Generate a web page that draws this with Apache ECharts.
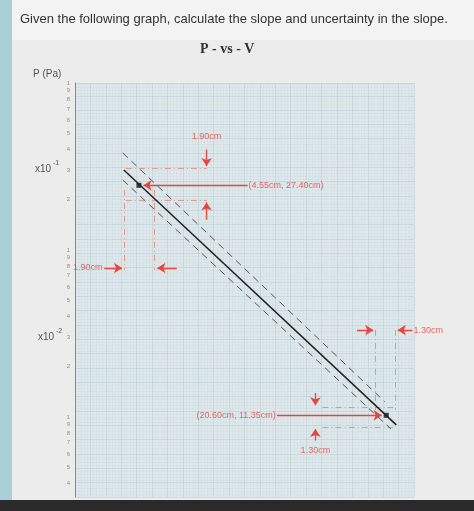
<!DOCTYPE html>
<html><head><meta charset="utf-8">
<script src="https://cdn.jsdelivr.net/npm/echarts@6/dist/echarts.min.js"></script>
<style>html,body{margin:0;padding:0;background:#e9ecec}#c{width:474px;height:511px}</style>
</head><body><div id="c"></div>
<script>
// Log-paper tick labels (mantissas per decade)
const decades = [-1, -2, -3];
const mantissas = [1,9,8,7,6,5,4,3,2];
const lowestValue = 0.004;
// Measured points (cm on the paper)
const points = [[4.55, 27.40], [20.60, 11.35]];
// best fit & error lines (cm)
const mainLine = [[3.57, 28.47], [21.25, 10.68]];
const upperLine = [[3.5, 29.66], [20.5, 12.3]];
const lowerLine = [[3.5, 27.77], [20.9, 10.4]];
// red dash-dot guides (cm)
const guides = [
  [[3.7, 28.61], [8.94, 28.61]], [[3.7, 26.38], [8.94, 26.38]],
  [[3.57, 27.08], [3.57, 21.49]], [[5.53, 27.08], [5.53, 21.49]],
  [[19.88, 17.31], [19.88, 11.72]], [[21.19, 17.31], [21.19, 11.72]],
  [[16.47, 11.93], [21.05, 11.93]], [[16.47, 10.54], [21.05, 10.54]]
];
// red arrows (cm)
const arrows = [
  [[8.94, 29.9], [8.94, 28.75]], [[8.94, 25.0], [8.94, 26.2]],
  [[11.6, 27.4], [4.85, 27.4]],
  [[2.3, 21.63], [3.45, 21.63]], [[7.0, 21.63], [5.75, 21.63]],
  [[18.7, 17.3], [19.75, 17.3]], [[22.3, 17.3], [21.35, 17.3]],
  [[16.0, 12.9], [16.0, 12.05]], [[16.0, 9.6], [16.0, 10.4]],
  [[13.5, 11.35], [20.3, 11.35]]
];
const redTexts = [
  [8.94, 30.4, '1.90cm', 'top'], [11.6, 27.4, '(4.55cm, 27.40cm)', 'right'],
  [2.25, 21.63, '1.90cm', 'left'], [22.3, 17.3, '1.30cm', 'right'],
  [16.0, 9.3, '1.30cm', 'bottom'], [13.5, 11.35, '(20.60cm, 11.35cm)', 'left']
];

const labelData = [];
decades.forEach(d => mantissas.forEach(m => {
  const val = (m === 1 ? Math.pow(10, d + 1) : m * Math.pow(10, d));
  if (val >= lowestValue) labelData.push([0.4, Math.log10(val), String(m)]);
}));

const chart = echarts.init(document.getElementById('c'));
const red = '#e8453c';
chart.setOption({
  animation: false,
  backgroundColor: '#e9ecec',
  graphic: [
    {type:'rect', shape:{x:0,y:0,width:474,height:511}, style:{fill:'#a9d0d6'}, z:-10},
    {type:'rect', shape:{x:12,y:0,width:462,height:40}, style:{fill:'#f3f3f3'}, z:-9},
    {type:'rect', shape:{x:12,y:40,width:462,height:460}, style:{fill:'#ececec'}, z:-9},
    {type:'rect', shape:{x:0,y:500,width:474,height:11}, style:{fill:'#2a2a2a'}, z:-8},
    {type:'text', left:20, top:13, style:{text:'Given the following graph, calculate the slope and uncertainty in the slope.', font:'13px "Liberation Sans", Arial', fill:'#333'}},
    {type:'text', left:200, top:42, style:{text:'P - vs - V', font:'bold 14px "Liberation Serif", serif', fill:'#333'}},
    {type:'text', left:33, top:69, style:{text:'P (Pa)', font:'10px "Liberation Sans", Arial', fill:'#555'}},
    {type:'text', left:35, top:164, style:{text:'x10', font:'10px "Liberation Sans"', fill:'#555'}},
    {type:'text', left:53, top:160, style:{text:'-1', font:'7px "Liberation Sans"', fill:'#555'}},
    {type:'text', left:38, top:332, style:{text:'x10', font:'10px "Liberation Sans"', fill:'#555'}},
    {type:'text', left:56, top:328, style:{text:'-2', font:'7px "Liberation Sans"', fill:'#555'}}
  ],
  grid: {left: 75, right: 60, top: 83, bottom: 14, backgroundColor:'#dfe9ec', show:true, borderWidth:0},
  xAxis: {type:'value', min:0.4, max:22.4, interval:1, axisLabel:{show:false}, axisTick:{show:false},
    axisLine:{show:false},
    splitLine:{show:true, lineStyle:{color:'#b9cdd3', width:0.6}},
    minorTick:{show:false, splitNumber:5},
    minorSplitLine:{show:true, lineStyle:{color:'#cfdde2', width:0.5}}},
  yAxis: [
    {type:'value', min:-2.48, max:0, position:'left', axisLabel:{show:false}, axisTick:{show:false},
      axisLine:{show:true, lineStyle:{color:'#888', width:1}}, splitLine:{show:false}},
    {type:'value', min:5.65, max:34.54, interval:1, axisLabel:{show:false}, axisTick:{show:false}, axisLine:{show:false},
      splitLine:{show:true, lineStyle:{color:'#b9cdd3', width:0.6}},
      minorSplitLine:{show:true, lineStyle:{color:'#cfdde2', width:0.5}}, minorTick:{splitNumber:5}}
  ],
  series: [
    {type:'scatter', yAxisIndex:0, data:labelData, symbolSize:0, silent:true, clip:false,
      label:{show:true, position:'left', distance:5, formatter:p=>p.data[2], fontSize:6, color:'#777'}},
    {type:'line', yAxisIndex:1, data:mainLine, symbol:'none', lineStyle:{color:'#222', width:1.5}},
    {type:'line', yAxisIndex:1, data:upperLine, symbol:'none', lineStyle:{color:'#555', width:1, type:[7,5]}},
    {type:'line', yAxisIndex:1, data:lowerLine, symbol:'none', lineStyle:{color:'#555', width:1, type:[7,5]}},
    {type:'lines', coordinateSystem:'cartesian2d', yAxisIndex:1,
      data:guides.map(c=>({coords:c})), lineStyle:{color:'#e09a8a', width:1, type:[6,3,1,3], opacity:1}},
    {type:'lines', coordinateSystem:'cartesian2d', yAxisIndex:1, symbol:['none','arrow'], symbolSize:8,
      data:arrows.map(c=>({coords:c})), lineStyle:{color:red, width:1.3, opacity:1}},
    {type:'scatter', yAxisIndex:1, data:points, symbol:'rect', symbolSize:5, itemStyle:{color:'#111'}},
    {type:'scatter', yAxisIndex:1, symbolSize:0, clip:false, data:redTexts.map(t=>({value:[t[0],t[1]], label:{position:t[3]}, name:t[2]})),
      label:{show:true, formatter:p=>p.name, color:red, fontSize:9, distance:1}}
  ]
});
</script></body></html>
